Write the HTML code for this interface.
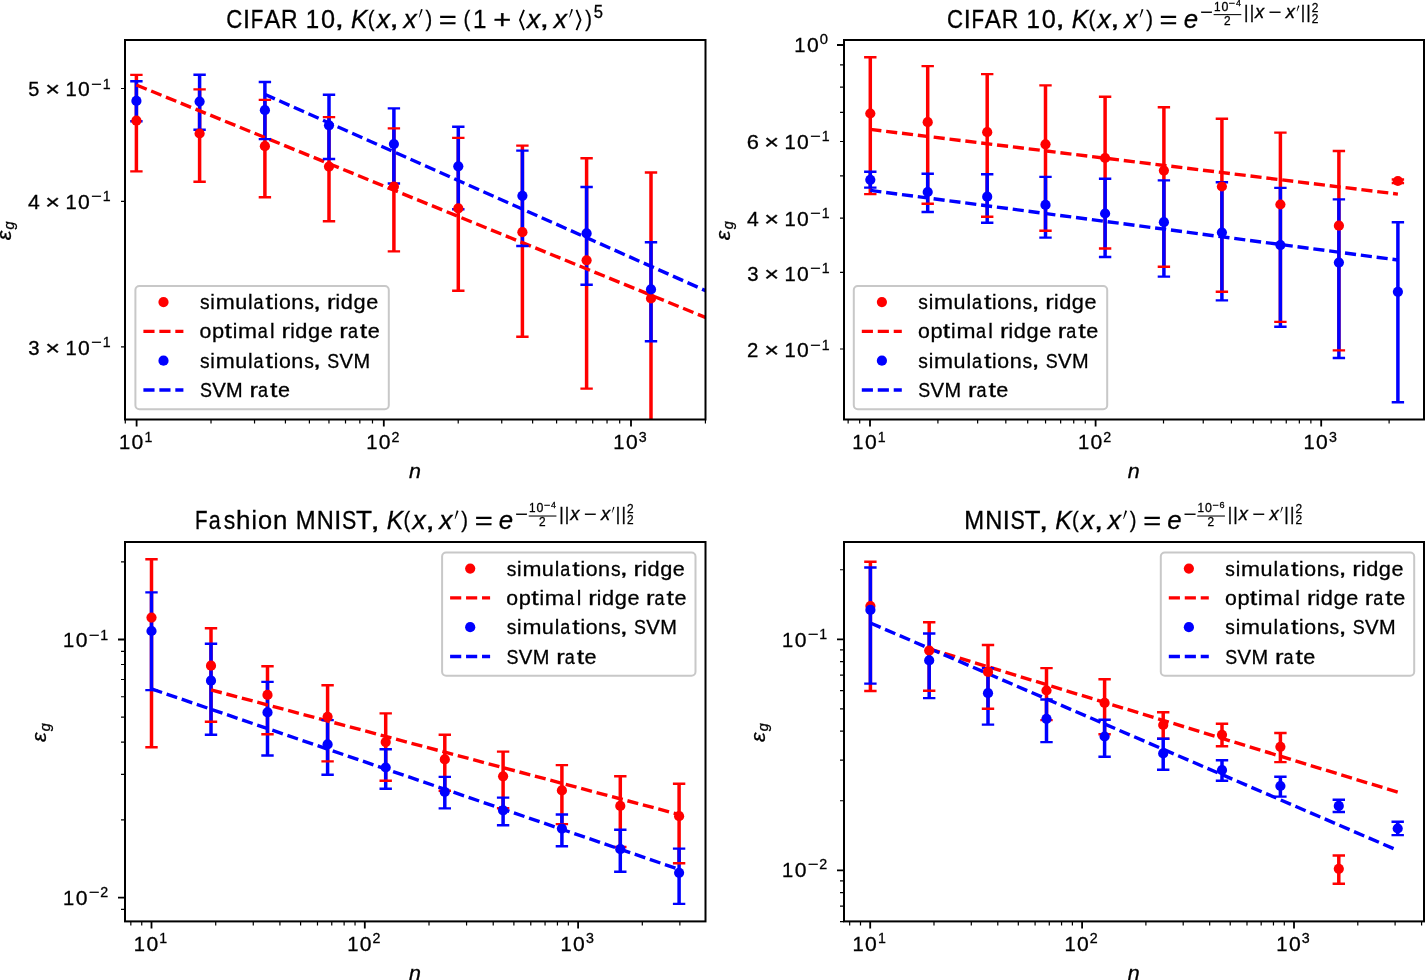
<!DOCTYPE html>
<html><head><meta charset="utf-8"><title>figure</title>
<style>
html,body{margin:0;padding:0;background:#fff;overflow:hidden;}
svg{display:block;will-change:transform;}
text{font-family:"Liberation Sans",sans-serif;stroke:#000;stroke-width:0.3px;}
</style></head><body>
<svg width="1425" height="980" viewBox="0 0 1425 980">
<rect width="1425" height="980" fill="#fff"/>
<clipPath id="c0"><rect x="125" y="40" width="580.5" height="379.5"/></clipPath>
<g clip-path="url(#c0)">
<path d="M136.4 74.9V171.4M199.6 89.4V181.7M264.9 99.9V197.2M329 117.1V221.2M393.9 128.4V251.4M458.3 137.9V290.7M522.4 145.6V336.7M586.6 158.3V388.6M651 172.5V470" stroke="#ff0000" stroke-width="3.5" fill="none"/>
<path d="M136.4 81.3V121.2M199.6 74.7V129.8M264.9 82V139.1M329 94.7V159M393.9 108.4V183.5M458.3 126.7V209.3M522.4 150.6V246M586.6 187V284.7M651 242.2V341.2" stroke="#0000ff" stroke-width="3.5" fill="none"/>
<path d="M130.2 74.9h12.4M130.2 171.4h12.4M193.4 89.4h12.4M193.4 181.7h12.4M258.7 99.9h12.4M258.7 197.2h12.4M322.8 117.1h12.4M322.8 221.2h12.4M387.7 128.4h12.4M387.7 251.4h12.4M452.1 137.9h12.4M452.1 290.7h12.4M516.2 145.6h12.4M516.2 336.7h12.4M580.4 158.3h12.4M580.4 388.6h12.4M644.8 172.5h12.4M644.8 470h12.4" stroke="#ff0000" stroke-width="2.4" fill="none"/>
<path d="M136.4 85L720 323.36" stroke="#ff0000" stroke-width="3.4" stroke-dasharray="11.14 4.82" fill="none"/>
<path d="M130.2 81.3h12.4M130.2 121.2h12.4M193.4 74.7h12.4M193.4 129.8h12.4M258.7 82h12.4M258.7 139.1h12.4M322.8 94.7h12.4M322.8 159h12.4M387.7 108.4h12.4M387.7 183.5h12.4M452.1 126.7h12.4M452.1 209.3h12.4M516.2 150.6h12.4M516.2 246h12.4M580.4 187h12.4M580.4 284.7h12.4M644.8 242.2h12.4M644.8 341.2h12.4" stroke="#0000ff" stroke-width="2.4" fill="none"/>
<path d="M264.7 94.3L720 297.1" stroke="#0000ff" stroke-width="3.4" stroke-dasharray="11.14 4.82" fill="none"/>
<circle cx="136.4" cy="120.7" r="5.1" fill="#ff0000"/>
<circle cx="199.6" cy="133.5" r="5.1" fill="#ff0000"/>
<circle cx="264.9" cy="146.2" r="5.1" fill="#ff0000"/>
<circle cx="329" cy="166.6" r="5.1" fill="#ff0000"/>
<circle cx="393.9" cy="186.5" r="5.1" fill="#ff0000"/>
<circle cx="458.3" cy="208.4" r="5.1" fill="#ff0000"/>
<circle cx="522.4" cy="232.2" r="5.1" fill="#ff0000"/>
<circle cx="586.6" cy="260.3" r="5.1" fill="#ff0000"/>
<circle cx="651" cy="298.5" r="5.1" fill="#ff0000"/>
<circle cx="136.4" cy="100.9" r="5.1" fill="#0000ff"/>
<circle cx="199.6" cy="101.6" r="5.1" fill="#0000ff"/>
<circle cx="264.9" cy="110.2" r="5.1" fill="#0000ff"/>
<circle cx="329" cy="125.3" r="5.1" fill="#0000ff"/>
<circle cx="393.9" cy="144.1" r="5.1" fill="#0000ff"/>
<circle cx="458.3" cy="166.3" r="5.1" fill="#0000ff"/>
<circle cx="522.4" cy="195.8" r="5.1" fill="#0000ff"/>
<circle cx="586.6" cy="233.4" r="5.1" fill="#0000ff"/>
<circle cx="651" cy="289.4" r="5.1" fill="#0000ff"/>
</g>
<rect x="125" y="40" width="580.5" height="379.5" fill="none" stroke="#000" stroke-width="2"/>
<path d="M136.6 419.5v7M383.8 419.5v7M631 419.5v7" stroke="#000" stroke-width="1.8" fill="none"/>
<path d="M125.29 419.5v4M211.01 419.5v4M254.54 419.5v4M285.43 419.5v4M309.39 419.5v4M328.96 419.5v4M345.51 419.5v4M359.84 419.5v4M372.49 419.5v4M458.21 419.5v4M501.74 419.5v4M532.63 419.5v4M556.59 419.5v4M576.16 419.5v4M592.71 419.5v4M607.04 419.5v4M619.69 419.5v4M705.41 419.5v4M125 346.95h-4M125 201.4h-4M125 88.5h-4" stroke="#000" stroke-width="1.2" fill="none"/>
<g transform="translate(136.3 449.3)" fill="#000"><text transform="translate(-17.33 0) scale(0.969 1)" font-size="20.8">1</text><text transform="translate(-4.79 0) scale(1.016 1)" font-size="20.8">0</text><text transform="translate(8.11 -7.66) scale(0.970 1)" font-size="14.56">1</text></g>
<g transform="translate(383.5 449.3)" fill="#000"><text transform="translate(-17.33 0) scale(0.969 1)" font-size="20.8">1</text><text transform="translate(-4.79 0) scale(1.016 1)" font-size="20.8">0</text><text transform="translate(7.95 -7.66) scale(0.979 1)" font-size="14.56">2</text></g>
<g transform="translate(630.7 449.3)" fill="#000"><text transform="translate(-17.33 0) scale(0.969 1)" font-size="20.8">1</text><text transform="translate(-4.79 0) scale(1.016 1)" font-size="20.8">0</text><text transform="translate(8.17 -7.66) scale(0.977 1)" font-size="14.56">3</text></g>
<g transform="translate(112.6 96.4)" fill="#000"><text transform="translate(-84.25 0) scale(0.959 1)" font-size="20.8">5</text><text transform="translate(-67.38 0) scale(1.220 1)" font-size="20.8">×</text><text transform="translate(-47.05 0) scale(0.969 1)" font-size="20.8">1</text><text transform="translate(-34.51 0) scale(1.016 1)" font-size="20.8">0</text><text transform="translate(-21.49 -7.66) scale(1.244 1)" font-size="14.56">−</text><text transform="translate(-9.88 -7.66) scale(0.970 1)" font-size="14.56">1</text></g>
<g transform="translate(112.6 208.8)" fill="#000"><text transform="translate(-84.51 0) scale(1.016 1)" font-size="20.8">4</text><text transform="translate(-67.38 0) scale(1.220 1)" font-size="20.8">×</text><text transform="translate(-47.05 0) scale(0.969 1)" font-size="20.8">1</text><text transform="translate(-34.51 0) scale(1.016 1)" font-size="20.8">0</text><text transform="translate(-21.49 -7.66) scale(1.244 1)" font-size="14.56">−</text><text transform="translate(-9.88 -7.66) scale(0.970 1)" font-size="14.56">1</text></g>
<g transform="translate(112.6 354.8)" fill="#000"><text transform="translate(-84.25 0) scale(0.976 1)" font-size="20.8">3</text><text transform="translate(-67.38 0) scale(1.220 1)" font-size="20.8">×</text><text transform="translate(-47.05 0) scale(0.969 1)" font-size="20.8">1</text><text transform="translate(-34.51 0) scale(1.016 1)" font-size="20.8">0</text><text transform="translate(-21.49 -7.66) scale(1.244 1)" font-size="14.56">−</text><text transform="translate(-9.88 -7.66) scale(0.970 1)" font-size="14.56">1</text></g>
<rect x="135.4" y="286" width="253.4" height="123.2" rx="4" ry="4" fill="#fff" fill-opacity="0.8" stroke="#c8c8c8" stroke-width="2"/>
<circle cx="163.5" cy="302.1" r="5.1" fill="#ff0000"/>
<g transform="translate(199.4 309.1)" fill="#000"><text transform="translate(0.54 0) scale(0.924 1)" font-size="20.8">s</text><text transform="translate(10.94 0) scale(0.983 1)" font-size="20.8">i</text><text transform="translate(16.28 0) scale(1.098 1)" font-size="20.8">m</text><text transform="translate(35.77 0) scale(1.039 1)" font-size="20.8">u</text><text transform="translate(48.63 0) scale(0.991 1)" font-size="20.8">l</text><text transform="translate(54.14 0) scale(0.865 1)" font-size="20.8">a</text><text transform="translate(66.08 0) scale(1.289 1)" font-size="20.8">t</text><text transform="translate(74.31 0) scale(0.983 1)" font-size="20.8">i</text><text transform="translate(79.56 0) scale(1.024 1)" font-size="20.8">o</text><text transform="translate(91.96 0) scale(1.041 1)" font-size="20.8">n</text><text transform="translate(104.8 0) scale(0.924 1)" font-size="20.8">s</text><text transform="translate(113.63 -0.29) scale(1.397 0.975)" font-size="20.8">,</text><text transform="translate(127.51 0) scale(1.235 1)" font-size="20.8">r</text><text transform="translate(136.14 0) scale(0.983 1)" font-size="20.8">i</text><text transform="translate(141.37 0) scale(1.047 1)" font-size="20.8">d</text><text transform="translate(154.06 0) scale(1.047 1)" font-size="20.8">g</text><text transform="translate(166.76 0) scale(1.038 1)" font-size="20.8">e</text></g>
<path d="M143.4 331.4h40" stroke="#ff0000" stroke-width="3.4" stroke-dasharray="11.14 4.82" fill="none"/>
<g transform="translate(199.4 338.4)" fill="#000"><text transform="translate(0.21 0) scale(1.024 1)" font-size="20.8">o</text><text transform="translate(12.64 0) scale(1.050 1)" font-size="20.8">p</text><text transform="translate(25.06 0) scale(1.289 1)" font-size="20.8">t</text><text transform="translate(33.3 0) scale(0.983 1)" font-size="20.8">i</text><text transform="translate(38.63 0) scale(1.098 1)" font-size="20.8">m</text><text transform="translate(58.26 0) scale(0.865 1)" font-size="20.8">a</text><text transform="translate(70.56 0) scale(0.991 1)" font-size="20.8">l</text><text transform="translate(82.1 0) scale(1.235 1)" font-size="20.8">r</text><text transform="translate(90.73 0) scale(0.983 1)" font-size="20.8">i</text><text transform="translate(95.96 0) scale(1.047 1)" font-size="20.8">d</text><text transform="translate(108.65 0) scale(1.047 1)" font-size="20.8">g</text><text transform="translate(121.35 0) scale(1.038 1)" font-size="20.8">e</text><text transform="translate(139.93 0) scale(1.235 1)" font-size="20.8">r</text><text transform="translate(148.48 0) scale(0.865 1)" font-size="20.8">a</text><text transform="translate(160.42 0) scale(1.289 1)" font-size="20.8">t</text><text transform="translate(168.34 0) scale(1.038 1)" font-size="20.8">e</text></g>
<circle cx="163.5" cy="360.7" r="5.1" fill="#0000ff"/>
<g transform="translate(199.4 367.7)" fill="#000"><text transform="translate(0.54 0) scale(0.924 1)" font-size="20.8">s</text><text transform="translate(10.94 0) scale(0.983 1)" font-size="20.8">i</text><text transform="translate(16.28 0) scale(1.098 1)" font-size="20.8">m</text><text transform="translate(35.77 0) scale(1.039 1)" font-size="20.8">u</text><text transform="translate(48.63 0) scale(0.991 1)" font-size="20.8">l</text><text transform="translate(54.14 0) scale(0.865 1)" font-size="20.8">a</text><text transform="translate(66.08 0) scale(1.289 1)" font-size="20.8">t</text><text transform="translate(74.31 0) scale(0.983 1)" font-size="20.8">i</text><text transform="translate(79.56 0) scale(1.024 1)" font-size="20.8">o</text><text transform="translate(91.96 0) scale(1.041 1)" font-size="20.8">n</text><text transform="translate(104.8 0) scale(0.924 1)" font-size="20.8">s</text><text transform="translate(113.63 -0.29) scale(1.397 0.975)" font-size="20.8">,</text><text transform="translate(127.9 0) scale(0.859 1)" font-size="20.8">S</text><text transform="translate(140.15 0) scale(0.978 1)" font-size="20.8">V</text><text transform="translate(154.1 0) scale(0.961 1)" font-size="20.8">M</text></g>
<path d="M143.4 390h40" stroke="#0000ff" stroke-width="3.4" stroke-dasharray="11.14 4.82" fill="none"/>
<g transform="translate(199.4 397)" fill="#000"><text transform="translate(0.51 0) scale(0.859 1)" font-size="20.8">S</text><text transform="translate(12.76 0) scale(0.978 1)" font-size="20.8">V</text><text transform="translate(26.71 0) scale(0.961 1)" font-size="20.8">M</text><text transform="translate(50.1 0) scale(1.235 1)" font-size="20.8">r</text><text transform="translate(58.66 0) scale(0.865 1)" font-size="20.8">a</text><text transform="translate(70.6 0) scale(1.289 1)" font-size="20.8">t</text><text transform="translate(78.51 0) scale(1.038 1)" font-size="20.8">e</text></g>
<g transform="translate(415.3 27.5)" fill="#000"><text transform="translate(-188.97 0) scale(0.891 1)" font-size="24.96">C</text><text transform="translate(-172.31 0) scale(1.013 1)" font-size="24.96">I</text><text transform="translate(-164.52 0) scale(0.822 1)" font-size="24.96">F</text><text transform="translate(-151.16 0) scale(0.967 1)" font-size="24.96">A</text><text transform="translate(-134.3 0) scale(0.918 1)" font-size="24.96">R</text><text transform="translate(-109.53 0) scale(0.967 1)" font-size="24.96">1</text><text transform="translate(-94.38 0) scale(1.013 1)" font-size="24.96">0</text><text transform="translate(-80.88 -0.36) scale(1.395 0.984)" font-size="24.96">,</text><text transform="translate(-64.36 0) scale(0.992 1)" font-size="24.96" font-style="italic">K</text><text transform="translate(-47.59 -1.58) scale(0.809 0.919)" font-size="24.96">(</text><text transform="translate(-38.55 0) scale(1.056 1)" font-size="24.96" font-style="italic">x</text><text transform="translate(-25.97 -0.36) scale(1.395 0.984)" font-size="24.96">,</text><text transform="translate(-11.88 0) scale(1.056 1)" font-size="24.96" font-style="italic">x</text><path d="M5.71 -18.58L7.47 -17.98L4.17 -9.91L3.55 -10.21Z" fill="#000"/><text transform="translate(10.18 -1.58) scale(0.809 0.919)" font-size="24.96">)</text><text transform="translate(23.54 0) scale(1.235 1)" font-size="24.96">=</text><text transform="translate(48.25 -1.58) scale(0.809 0.919)" font-size="24.96">(</text><text transform="translate(57.66 0) scale(0.967 1)" font-size="24.96">1</text><text transform="translate(77.98 0) scale(1.235 1)" font-size="24.96">+</text><path d="M108.71 -17.62L104.62 -7.52L108.71 2.57" fill="none" stroke="#000" stroke-width="1.8"/><text transform="translate(111.73 0) scale(1.056 1)" font-size="24.96" font-style="italic">x</text><text transform="translate(124.31 -0.36) scale(1.395 0.984)" font-size="24.96">,</text><text transform="translate(138.4 0) scale(1.056 1)" font-size="24.96" font-style="italic">x</text><path d="M155.98 -18.58L157.75 -17.98L154.45 -9.91L153.83 -10.21Z" fill="#000"/><path d="M161.17 -17.62L165.27 -7.52L161.17 2.57" fill="none" stroke="#000" stroke-width="1.8"/><text transform="translate(169.88 -1.58) scale(0.809 0.919)" font-size="24.96">)</text><text transform="translate(178.35 -9.19) scale(0.951 1)" font-size="17.47">5</text></g>
<g transform="translate(415.25 477.9)" fill="#000"><text transform="translate(-6.15 0) scale(1.035 1)" font-size="20.8" font-style="italic">n</text></g>
<g transform="translate(11.05 240.7) rotate(-90)" fill="#000"><text transform="translate(0.43 0) scale(1.035 1)" font-size="20.8" font-style="italic">ε</text><text transform="translate(11.23 3.28)" font-size="14.56" font-style="italic">g</text></g>
<clipPath id="c1"><rect x="844" y="40" width="580" height="379.5"/></clipPath>
<g clip-path="url(#c1)">
<path d="M870.3 57.3V194.1M927.7 66.1V203.7M987.2 74.1V216.7M1045.5 85.4V230.8M1105.1 96.7V248.5M1163.9 107.3V266.7M1221.9 118.8V291.8M1280.4 132.6V321.9M1338.9 151V350.4M1397.9 179.5V183" stroke="#ff0000" stroke-width="3.5" fill="none"/>
<path d="M870.3 171.8V187.6M927.7 173.7V212M987.2 174.3V222.7M1045.5 176.9V237.6M1105.1 178.8V257M1163.9 180.4V276.6M1221.9 182.2V300.4M1280.4 187.9V326.7M1338.9 199.4V358M1397.9 222.3V402.2" stroke="#0000ff" stroke-width="3.5" fill="none"/>
<path d="M864.1 57.3h12.4M864.1 194.1h12.4M921.5 66.1h12.4M921.5 203.7h12.4M981 74.1h12.4M981 216.7h12.4M1039.3 85.4h12.4M1039.3 230.8h12.4M1098.9 96.7h12.4M1098.9 248.5h12.4M1157.7 107.3h12.4M1157.7 266.7h12.4M1215.7 118.8h12.4M1215.7 291.8h12.4M1274.2 132.6h12.4M1274.2 321.9h12.4M1332.7 151h12.4M1332.7 350.4h12.4M1391.7 179.5h12.4M1391.7 183h12.4" stroke="#ff0000" stroke-width="2.4" fill="none"/>
<path d="M870.3 129.4L1397.9 194.1" stroke="#ff0000" stroke-width="3.4" stroke-dasharray="11.14 4.82" fill="none"/>
<path d="M864.1 171.8h12.4M864.1 187.6h12.4M921.5 173.7h12.4M921.5 212h12.4M981 174.3h12.4M981 222.7h12.4M1039.3 176.9h12.4M1039.3 237.6h12.4M1098.9 178.8h12.4M1098.9 257h12.4M1157.7 180.4h12.4M1157.7 276.6h12.4M1215.7 182.2h12.4M1215.7 300.4h12.4M1274.2 187.9h12.4M1274.2 326.7h12.4M1332.7 199.4h12.4M1332.7 358h12.4M1391.7 222.3h12.4M1391.7 402.2h12.4" stroke="#0000ff" stroke-width="2.4" fill="none"/>
<path d="M870.3 190.4L1397.9 260" stroke="#0000ff" stroke-width="3.4" stroke-dasharray="11.14 4.82" fill="none"/>
<circle cx="870.3" cy="113.5" r="5.1" fill="#ff0000"/>
<circle cx="927.7" cy="122.2" r="5.1" fill="#ff0000"/>
<circle cx="987.2" cy="132.2" r="5.1" fill="#ff0000"/>
<circle cx="1045.5" cy="144.3" r="5.1" fill="#ff0000"/>
<circle cx="1105.1" cy="158" r="5.1" fill="#ff0000"/>
<circle cx="1163.9" cy="170.6" r="5.1" fill="#ff0000"/>
<circle cx="1221.9" cy="186.5" r="5.1" fill="#ff0000"/>
<circle cx="1280.4" cy="204.5" r="5.1" fill="#ff0000"/>
<circle cx="1338.9" cy="225.7" r="5.1" fill="#ff0000"/>
<circle cx="1397.9" cy="181" r="5.1" fill="#ff0000"/>
<circle cx="870.3" cy="179.8" r="5.1" fill="#0000ff"/>
<circle cx="927.7" cy="192" r="5.1" fill="#0000ff"/>
<circle cx="987.2" cy="196.7" r="5.1" fill="#0000ff"/>
<circle cx="1045.5" cy="204.9" r="5.1" fill="#0000ff"/>
<circle cx="1105.1" cy="213.5" r="5.1" fill="#0000ff"/>
<circle cx="1163.9" cy="222.2" r="5.1" fill="#0000ff"/>
<circle cx="1221.9" cy="232.5" r="5.1" fill="#0000ff"/>
<circle cx="1280.4" cy="245.1" r="5.1" fill="#0000ff"/>
<circle cx="1338.9" cy="262.6" r="5.1" fill="#0000ff"/>
<circle cx="1397.9" cy="291.8" r="5.1" fill="#0000ff"/>
</g>
<rect x="844" y="40" width="580" height="379.5" fill="none" stroke="#000" stroke-width="2"/>
<path d="M870 419.5v7M1095.6 419.5v7M1321.2 419.5v7M844 45h-7" stroke="#000" stroke-width="1.8" fill="none"/>
<path d="M848.14 419.5v4M859.68 419.5v4M937.91 419.5v4M977.64 419.5v4M1005.82 419.5v4M1027.69 419.5v4M1045.55 419.5v4M1060.65 419.5v4M1073.74 419.5v4M1085.28 419.5v4M1163.51 419.5v4M1203.24 419.5v4M1231.42 419.5v4M1253.29 419.5v4M1271.15 419.5v4M1286.25 419.5v4M1299.34 419.5v4M1310.88 419.5v4M1389.11 419.5v4M844 348.98h-4M844 272.4h-4M844 218.06h-4M844 175.92h-4M844 141.48h-4M844 112.37h-4M844 87.15h-4M844 64.9h-4" stroke="#000" stroke-width="1.2" fill="none"/>
<g transform="translate(869.7 449.3)" fill="#000"><text transform="translate(-17.33 0) scale(0.969 1)" font-size="20.8">1</text><text transform="translate(-4.79 0) scale(1.016 1)" font-size="20.8">0</text><text transform="translate(8.11 -7.66) scale(0.970 1)" font-size="14.56">1</text></g>
<g transform="translate(1095.3 449.3)" fill="#000"><text transform="translate(-17.33 0) scale(0.969 1)" font-size="20.8">1</text><text transform="translate(-4.79 0) scale(1.016 1)" font-size="20.8">0</text><text transform="translate(7.95 -7.66) scale(0.979 1)" font-size="14.56">2</text></g>
<g transform="translate(1320.9 449.3)" fill="#000"><text transform="translate(-17.33 0) scale(0.969 1)" font-size="20.8">1</text><text transform="translate(-4.79 0) scale(1.016 1)" font-size="20.8">0</text><text transform="translate(8.17 -7.66) scale(0.977 1)" font-size="14.56">3</text></g>
<g transform="translate(829.7 51.7)" fill="#000"><text transform="translate(-35.33 0) scale(0.969 1)" font-size="20.8">1</text><text transform="translate(-22.79 0) scale(1.016 1)" font-size="20.8">0</text><text transform="translate(-10.01 -7.66) scale(1.018 1)" font-size="14.56">0</text></g>
<g transform="translate(831.6 149.1)" fill="#000"><text transform="translate(-84.73 0) scale(1.054 1)" font-size="20.8">6</text><text transform="translate(-67.38 0) scale(1.220 1)" font-size="20.8">×</text><text transform="translate(-47.05 0) scale(0.969 1)" font-size="20.8">1</text><text transform="translate(-34.51 0) scale(1.016 1)" font-size="20.8">0</text><text transform="translate(-21.49 -7.66) scale(1.244 1)" font-size="14.56">−</text><text transform="translate(-9.88 -7.66) scale(0.970 1)" font-size="14.56">1</text></g>
<g transform="translate(831.6 226)" fill="#000"><text transform="translate(-84.51 0) scale(1.016 1)" font-size="20.8">4</text><text transform="translate(-67.38 0) scale(1.220 1)" font-size="20.8">×</text><text transform="translate(-47.05 0) scale(0.969 1)" font-size="20.8">1</text><text transform="translate(-34.51 0) scale(1.016 1)" font-size="20.8">0</text><text transform="translate(-21.49 -7.66) scale(1.244 1)" font-size="14.56">−</text><text transform="translate(-9.88 -7.66) scale(0.970 1)" font-size="14.56">1</text></g>
<g transform="translate(831.6 280.7)" fill="#000"><text transform="translate(-84.25 0) scale(0.976 1)" font-size="20.8">3</text><text transform="translate(-67.38 0) scale(1.220 1)" font-size="20.8">×</text><text transform="translate(-47.05 0) scale(0.969 1)" font-size="20.8">1</text><text transform="translate(-34.51 0) scale(1.016 1)" font-size="20.8">0</text><text transform="translate(-21.49 -7.66) scale(1.244 1)" font-size="14.56">−</text><text transform="translate(-9.88 -7.66) scale(0.970 1)" font-size="14.56">1</text></g>
<g transform="translate(831.6 357.2)" fill="#000"><text transform="translate(-84.56 0) scale(0.979 1)" font-size="20.8">2</text><text transform="translate(-67.38 0) scale(1.220 1)" font-size="20.8">×</text><text transform="translate(-47.05 0) scale(0.969 1)" font-size="20.8">1</text><text transform="translate(-34.51 0) scale(1.016 1)" font-size="20.8">0</text><text transform="translate(-21.49 -7.66) scale(1.244 1)" font-size="14.56">−</text><text transform="translate(-9.88 -7.66) scale(0.970 1)" font-size="14.56">1</text></g>
<rect x="853.8" y="286" width="253.4" height="123.2" rx="4" ry="4" fill="#fff" fill-opacity="0.8" stroke="#c8c8c8" stroke-width="2"/>
<circle cx="881.9" cy="302.1" r="5.1" fill="#ff0000"/>
<g transform="translate(917.8 309.1)" fill="#000"><text transform="translate(0.54 0) scale(0.924 1)" font-size="20.8">s</text><text transform="translate(10.94 0) scale(0.983 1)" font-size="20.8">i</text><text transform="translate(16.28 0) scale(1.098 1)" font-size="20.8">m</text><text transform="translate(35.77 0) scale(1.039 1)" font-size="20.8">u</text><text transform="translate(48.63 0) scale(0.991 1)" font-size="20.8">l</text><text transform="translate(54.14 0) scale(0.865 1)" font-size="20.8">a</text><text transform="translate(66.08 0) scale(1.289 1)" font-size="20.8">t</text><text transform="translate(74.31 0) scale(0.983 1)" font-size="20.8">i</text><text transform="translate(79.56 0) scale(1.024 1)" font-size="20.8">o</text><text transform="translate(91.96 0) scale(1.041 1)" font-size="20.8">n</text><text transform="translate(104.8 0) scale(0.924 1)" font-size="20.8">s</text><text transform="translate(113.63 -0.29) scale(1.397 0.975)" font-size="20.8">,</text><text transform="translate(127.51 0) scale(1.235 1)" font-size="20.8">r</text><text transform="translate(136.14 0) scale(0.983 1)" font-size="20.8">i</text><text transform="translate(141.37 0) scale(1.047 1)" font-size="20.8">d</text><text transform="translate(154.06 0) scale(1.047 1)" font-size="20.8">g</text><text transform="translate(166.76 0) scale(1.038 1)" font-size="20.8">e</text></g>
<path d="M861.8 331.4h40" stroke="#ff0000" stroke-width="3.4" stroke-dasharray="11.14 4.82" fill="none"/>
<g transform="translate(917.8 338.4)" fill="#000"><text transform="translate(0.21 0) scale(1.024 1)" font-size="20.8">o</text><text transform="translate(12.64 0) scale(1.050 1)" font-size="20.8">p</text><text transform="translate(25.06 0) scale(1.289 1)" font-size="20.8">t</text><text transform="translate(33.3 0) scale(0.983 1)" font-size="20.8">i</text><text transform="translate(38.63 0) scale(1.098 1)" font-size="20.8">m</text><text transform="translate(58.26 0) scale(0.865 1)" font-size="20.8">a</text><text transform="translate(70.56 0) scale(0.991 1)" font-size="20.8">l</text><text transform="translate(82.1 0) scale(1.235 1)" font-size="20.8">r</text><text transform="translate(90.73 0) scale(0.983 1)" font-size="20.8">i</text><text transform="translate(95.96 0) scale(1.047 1)" font-size="20.8">d</text><text transform="translate(108.65 0) scale(1.047 1)" font-size="20.8">g</text><text transform="translate(121.35 0) scale(1.038 1)" font-size="20.8">e</text><text transform="translate(139.93 0) scale(1.235 1)" font-size="20.8">r</text><text transform="translate(148.48 0) scale(0.865 1)" font-size="20.8">a</text><text transform="translate(160.42 0) scale(1.289 1)" font-size="20.8">t</text><text transform="translate(168.34 0) scale(1.038 1)" font-size="20.8">e</text></g>
<circle cx="881.9" cy="360.7" r="5.1" fill="#0000ff"/>
<g transform="translate(917.8 367.7)" fill="#000"><text transform="translate(0.54 0) scale(0.924 1)" font-size="20.8">s</text><text transform="translate(10.94 0) scale(0.983 1)" font-size="20.8">i</text><text transform="translate(16.28 0) scale(1.098 1)" font-size="20.8">m</text><text transform="translate(35.77 0) scale(1.039 1)" font-size="20.8">u</text><text transform="translate(48.63 0) scale(0.991 1)" font-size="20.8">l</text><text transform="translate(54.14 0) scale(0.865 1)" font-size="20.8">a</text><text transform="translate(66.08 0) scale(1.289 1)" font-size="20.8">t</text><text transform="translate(74.31 0) scale(0.983 1)" font-size="20.8">i</text><text transform="translate(79.56 0) scale(1.024 1)" font-size="20.8">o</text><text transform="translate(91.96 0) scale(1.041 1)" font-size="20.8">n</text><text transform="translate(104.8 0) scale(0.924 1)" font-size="20.8">s</text><text transform="translate(113.63 -0.29) scale(1.397 0.975)" font-size="20.8">,</text><text transform="translate(127.9 0) scale(0.859 1)" font-size="20.8">S</text><text transform="translate(140.15 0) scale(0.978 1)" font-size="20.8">V</text><text transform="translate(154.1 0) scale(0.961 1)" font-size="20.8">M</text></g>
<path d="M861.8 390h40" stroke="#0000ff" stroke-width="3.4" stroke-dasharray="11.14 4.82" fill="none"/>
<g transform="translate(917.8 397)" fill="#000"><text transform="translate(0.51 0) scale(0.859 1)" font-size="20.8">S</text><text transform="translate(12.76 0) scale(0.978 1)" font-size="20.8">V</text><text transform="translate(26.71 0) scale(0.961 1)" font-size="20.8">M</text><text transform="translate(50.1 0) scale(1.235 1)" font-size="20.8">r</text><text transform="translate(58.66 0) scale(0.865 1)" font-size="20.8">a</text><text transform="translate(70.6 0) scale(1.289 1)" font-size="20.8">t</text><text transform="translate(78.51 0) scale(1.038 1)" font-size="20.8">e</text></g>
<g transform="translate(1134 27.5)" fill="#000"><text transform="translate(-186.96 0) scale(0.891 1)" font-size="24.96">C</text><text transform="translate(-170.29 0) scale(1.013 1)" font-size="24.96">I</text><text transform="translate(-162.51 0) scale(0.822 1)" font-size="24.96">F</text><text transform="translate(-149.15 0) scale(0.967 1)" font-size="24.96">A</text><text transform="translate(-132.29 0) scale(0.918 1)" font-size="24.96">R</text><text transform="translate(-107.52 0) scale(0.967 1)" font-size="24.96">1</text><text transform="translate(-92.37 0) scale(1.013 1)" font-size="24.96">0</text><text transform="translate(-78.86 -0.36) scale(1.395 0.984)" font-size="24.96">,</text><text transform="translate(-62.35 0) scale(0.992 1)" font-size="24.96" font-style="italic">K</text><text transform="translate(-45.58 -1.58) scale(0.809 0.919)" font-size="24.96">(</text><text transform="translate(-36.54 0) scale(1.056 1)" font-size="24.96" font-style="italic">x</text><text transform="translate(-23.96 -0.36) scale(1.395 0.984)" font-size="24.96">,</text><text transform="translate(-9.86 0) scale(1.056 1)" font-size="24.96" font-style="italic">x</text><path d="M7.72 -18.58L9.48 -17.98L6.18 -9.91L5.56 -10.21Z" fill="#000"/><text transform="translate(12.19 -1.58) scale(0.809 0.919)" font-size="24.96">)</text><text transform="translate(25.55 0) scale(1.235 1)" font-size="24.96">=</text><text transform="translate(49.69 0) scale(1.037 1)" font-size="24.96" font-style="italic">e</text><text transform="translate(66.16 -9.19) scale(1.233 1)" font-size="17.47">−</text><text transform="translate(79.99 -16.72) scale(0.964 1)" font-size="12.23">1</text><text transform="translate(87.42 -16.72) scale(1.013 1)" font-size="12.23">0</text><text transform="translate(95.12 -21.22) scale(1.254 1)" font-size="8.56">−</text><text transform="translate(101.91 -21.22) scale(1.022 1)" font-size="8.56">4</text><text transform="translate(89.93 -2.57) scale(0.972 1)" font-size="12.23">2</text><text transform="translate(110.02 -9.03) scale(0.978 1.068)" font-size="17.47">|</text><text transform="translate(115.71 -9.03) scale(0.978 1.068)" font-size="17.47">|</text><text transform="translate(121.11 -9.19) scale(1.052 1)" font-size="17.47" font-style="italic">x</text><text transform="translate(134.83 -9.19) scale(1.233 1)" font-size="17.47">−</text><text transform="translate(151.87 -9.19) scale(1.052 1)" font-size="17.47" font-style="italic">x</text><path d="M164.18 -22.18L165.41 -21.58L163.1 -16.12L162.67 -16.42Z" fill="#000"/><text transform="translate(166.64 -9.03) scale(0.978 1.068)" font-size="17.47">|</text><text transform="translate(172.34 -9.03) scale(0.978 1.068)" font-size="17.47">|</text><text transform="translate(177.86 -15.62) scale(0.972 1)" font-size="12.23">2</text><text transform="translate(177.86 -4.59) scale(0.972 1)" font-size="12.23">2</text><rect x="79.6" y="-13.4" width="27.71" height="1.05" fill="#000"/></g>
<g transform="translate(1134 477.9)" fill="#000"><text transform="translate(-6.15 0) scale(1.035 1)" font-size="20.8" font-style="italic">n</text></g>
<g transform="translate(729.85 240.6) rotate(-90)" fill="#000"><text transform="translate(0.43 0) scale(1.035 1)" font-size="20.8" font-style="italic">ε</text><text transform="translate(11.23 3.28)" font-size="14.56" font-style="italic">g</text></g>
<clipPath id="c2"><rect x="125" y="542" width="580.5" height="379.4"/></clipPath>
<g clip-path="url(#c2)">
<path d="M151.5 559.2V747.2M211 628.3V721.8M267.5 666.2V734.2M327.6 685.3V761.4M385.7 713.4V780.7M444.8 734.7V790.8M503.1 751.6V808.2M561.9 765.1V824.1M620.3 776.3V847M679.1 783.7V863.2" stroke="#ff0000" stroke-width="3.5" fill="none"/>
<path d="M151.5 592.4V690.1M211 643.8V734.8M267.5 681.9V755.5M327.6 720.1V774.7M385.7 749.3V788.8M444.8 776.9V808.4M503.1 797.6V825.2M561.9 814.5V846.3M620.3 829.7V871.7M679.1 848.6V903.9" stroke="#0000ff" stroke-width="3.5" fill="none"/>
<path d="M145.3 559.2h12.4M145.3 747.2h12.4M204.8 628.3h12.4M204.8 721.8h12.4M261.3 666.2h12.4M261.3 734.2h12.4M321.4 685.3h12.4M321.4 761.4h12.4M379.5 713.4h12.4M379.5 780.7h12.4M438.6 734.7h12.4M438.6 790.8h12.4M496.9 751.6h12.4M496.9 808.2h12.4M555.7 765.1h12.4M555.7 824.1h12.4M614.1 776.3h12.4M614.1 847h12.4M672.9 783.7h12.4M672.9 863.2h12.4" stroke="#ff0000" stroke-width="2.4" fill="none"/>
<path d="M211 689.9L679.1 814.5" stroke="#ff0000" stroke-width="3.4" stroke-dasharray="11.14 4.82" fill="none"/>
<path d="M145.3 592.4h12.4M145.3 690.1h12.4M204.8 643.8h12.4M204.8 734.8h12.4M261.3 681.9h12.4M261.3 755.5h12.4M321.4 720.1h12.4M321.4 774.7h12.4M379.5 749.3h12.4M379.5 788.8h12.4M438.6 776.9h12.4M438.6 808.4h12.4M496.9 797.6h12.4M496.9 825.2h12.4M555.7 814.5h12.4M555.7 846.3h12.4M614.1 829.7h12.4M614.1 871.7h12.4M672.9 848.6h12.4M672.9 903.9h12.4" stroke="#0000ff" stroke-width="2.4" fill="none"/>
<path d="M151.5 688.9L679.1 869.4" stroke="#0000ff" stroke-width="3.4" stroke-dasharray="11.14 4.82" fill="none"/>
<circle cx="151.5" cy="617.6" r="5.1" fill="#ff0000"/>
<circle cx="211" cy="665.7" r="5.1" fill="#ff0000"/>
<circle cx="267.5" cy="694.9" r="5.1" fill="#ff0000"/>
<circle cx="327.6" cy="716.8" r="5.1" fill="#ff0000"/>
<circle cx="385.7" cy="742.1" r="5.1" fill="#ff0000"/>
<circle cx="444.8" cy="759.4" r="5.1" fill="#ff0000"/>
<circle cx="503.1" cy="776.3" r="5.1" fill="#ff0000"/>
<circle cx="561.9" cy="790.4" r="5.1" fill="#ff0000"/>
<circle cx="620.3" cy="805.9" r="5.1" fill="#ff0000"/>
<circle cx="679.1" cy="816.2" r="5.1" fill="#ff0000"/>
<circle cx="151.5" cy="631" r="5.1" fill="#0000ff"/>
<circle cx="211" cy="680.7" r="5.1" fill="#0000ff"/>
<circle cx="267.5" cy="712.4" r="5.1" fill="#0000ff"/>
<circle cx="327.6" cy="744.4" r="5.1" fill="#0000ff"/>
<circle cx="385.7" cy="767.5" r="5.1" fill="#0000ff"/>
<circle cx="444.8" cy="792" r="5.1" fill="#0000ff"/>
<circle cx="503.1" cy="810.4" r="5.1" fill="#0000ff"/>
<circle cx="561.9" cy="828.6" r="5.1" fill="#0000ff"/>
<circle cx="620.3" cy="849.2" r="5.1" fill="#0000ff"/>
<circle cx="679.1" cy="872.8" r="5.1" fill="#0000ff"/>
</g>
<rect x="125" y="542" width="580.5" height="379.4" fill="none" stroke="#000" stroke-width="2"/>
<path d="M151.5 921.4v7M364.8 921.4v7M578.1 921.4v7M125 897.6h-7M125 639.5h-7" stroke="#000" stroke-width="1.8" fill="none"/>
<path d="M130.83 921.4v4M141.74 921.4v4M215.71 921.4v4M253.27 921.4v4M279.92 921.4v4M300.59 921.4v4M317.48 921.4v4M331.76 921.4v4M344.13 921.4v4M355.04 921.4v4M429.01 921.4v4M466.57 921.4v4M493.22 921.4v4M513.89 921.4v4M530.78 921.4v4M545.06 921.4v4M557.43 921.4v4M568.34 921.4v4M642.31 921.4v4M679.87 921.4v4M125 909.41h-4M125 819.9h-4M125 774.46h-4M125 742.21h-4M125 717.2h-4M125 696.76h-4M125 679.48h-4M125 664.51h-4M125 651.31h-4M125 561.8h-4" stroke="#000" stroke-width="1.2" fill="none"/>
<g transform="translate(151.2 951)" fill="#000"><text transform="translate(-17.33 0) scale(0.969 1)" font-size="20.8">1</text><text transform="translate(-4.79 0) scale(1.016 1)" font-size="20.8">0</text><text transform="translate(8.11 -7.66) scale(0.970 1)" font-size="14.56">1</text></g>
<g transform="translate(364.5 951)" fill="#000"><text transform="translate(-17.33 0) scale(0.969 1)" font-size="20.8">1</text><text transform="translate(-4.79 0) scale(1.016 1)" font-size="20.8">0</text><text transform="translate(7.95 -7.66) scale(0.979 1)" font-size="14.56">2</text></g>
<g transform="translate(577.8 951)" fill="#000"><text transform="translate(-17.33 0) scale(0.969 1)" font-size="20.8">1</text><text transform="translate(-4.79 0) scale(1.016 1)" font-size="20.8">0</text><text transform="translate(8.17 -7.66) scale(0.977 1)" font-size="14.56">3</text></g>
<g transform="translate(109.45 647.3)" fill="#000"><text transform="translate(-46.33 0) scale(0.969 1)" font-size="20.8">1</text><text transform="translate(-33.79 0) scale(1.016 1)" font-size="20.8">0</text><text transform="translate(-20.77 -7.66) scale(1.244 1)" font-size="14.56">−</text><text transform="translate(-9.16 -7.66) scale(0.970 1)" font-size="14.56">1</text></g>
<g transform="translate(109.45 904.9)" fill="#000"><text transform="translate(-46.33 0) scale(0.969 1)" font-size="20.8">1</text><text transform="translate(-33.79 0) scale(1.016 1)" font-size="20.8">0</text><text transform="translate(-20.77 -7.66) scale(1.244 1)" font-size="14.56">−</text><text transform="translate(-9.32 -7.66) scale(0.979 1)" font-size="14.56">2</text></g>
<rect x="442.1" y="552.5" width="253.4" height="123.2" rx="4" ry="4" fill="#fff" fill-opacity="0.8" stroke="#c8c8c8" stroke-width="2"/>
<circle cx="470.2" cy="568.6" r="5.1" fill="#ff0000"/>
<g transform="translate(506.1 575.6)" fill="#000"><text transform="translate(0.54 0) scale(0.924 1)" font-size="20.8">s</text><text transform="translate(10.94 0) scale(0.983 1)" font-size="20.8">i</text><text transform="translate(16.28 0) scale(1.098 1)" font-size="20.8">m</text><text transform="translate(35.77 0) scale(1.039 1)" font-size="20.8">u</text><text transform="translate(48.63 0) scale(0.991 1)" font-size="20.8">l</text><text transform="translate(54.14 0) scale(0.865 1)" font-size="20.8">a</text><text transform="translate(66.08 0) scale(1.289 1)" font-size="20.8">t</text><text transform="translate(74.31 0) scale(0.983 1)" font-size="20.8">i</text><text transform="translate(79.56 0) scale(1.024 1)" font-size="20.8">o</text><text transform="translate(91.96 0) scale(1.041 1)" font-size="20.8">n</text><text transform="translate(104.8 0) scale(0.924 1)" font-size="20.8">s</text><text transform="translate(113.63 -0.29) scale(1.397 0.975)" font-size="20.8">,</text><text transform="translate(127.51 0) scale(1.235 1)" font-size="20.8">r</text><text transform="translate(136.14 0) scale(0.983 1)" font-size="20.8">i</text><text transform="translate(141.37 0) scale(1.047 1)" font-size="20.8">d</text><text transform="translate(154.06 0) scale(1.047 1)" font-size="20.8">g</text><text transform="translate(166.76 0) scale(1.038 1)" font-size="20.8">e</text></g>
<path d="M450.1 597.9h40" stroke="#ff0000" stroke-width="3.4" stroke-dasharray="11.14 4.82" fill="none"/>
<g transform="translate(506.1 604.9)" fill="#000"><text transform="translate(0.21 0) scale(1.024 1)" font-size="20.8">o</text><text transform="translate(12.64 0) scale(1.050 1)" font-size="20.8">p</text><text transform="translate(25.06 0) scale(1.289 1)" font-size="20.8">t</text><text transform="translate(33.3 0) scale(0.983 1)" font-size="20.8">i</text><text transform="translate(38.63 0) scale(1.098 1)" font-size="20.8">m</text><text transform="translate(58.26 0) scale(0.865 1)" font-size="20.8">a</text><text transform="translate(70.56 0) scale(0.991 1)" font-size="20.8">l</text><text transform="translate(82.1 0) scale(1.235 1)" font-size="20.8">r</text><text transform="translate(90.73 0) scale(0.983 1)" font-size="20.8">i</text><text transform="translate(95.96 0) scale(1.047 1)" font-size="20.8">d</text><text transform="translate(108.65 0) scale(1.047 1)" font-size="20.8">g</text><text transform="translate(121.35 0) scale(1.038 1)" font-size="20.8">e</text><text transform="translate(139.93 0) scale(1.235 1)" font-size="20.8">r</text><text transform="translate(148.48 0) scale(0.865 1)" font-size="20.8">a</text><text transform="translate(160.42 0) scale(1.289 1)" font-size="20.8">t</text><text transform="translate(168.34 0) scale(1.038 1)" font-size="20.8">e</text></g>
<circle cx="470.2" cy="627.2" r="5.1" fill="#0000ff"/>
<g transform="translate(506.1 634.2)" fill="#000"><text transform="translate(0.54 0) scale(0.924 1)" font-size="20.8">s</text><text transform="translate(10.94 0) scale(0.983 1)" font-size="20.8">i</text><text transform="translate(16.28 0) scale(1.098 1)" font-size="20.8">m</text><text transform="translate(35.77 0) scale(1.039 1)" font-size="20.8">u</text><text transform="translate(48.63 0) scale(0.991 1)" font-size="20.8">l</text><text transform="translate(54.14 0) scale(0.865 1)" font-size="20.8">a</text><text transform="translate(66.08 0) scale(1.289 1)" font-size="20.8">t</text><text transform="translate(74.31 0) scale(0.983 1)" font-size="20.8">i</text><text transform="translate(79.56 0) scale(1.024 1)" font-size="20.8">o</text><text transform="translate(91.96 0) scale(1.041 1)" font-size="20.8">n</text><text transform="translate(104.8 0) scale(0.924 1)" font-size="20.8">s</text><text transform="translate(113.63 -0.29) scale(1.397 0.975)" font-size="20.8">,</text><text transform="translate(127.9 0) scale(0.859 1)" font-size="20.8">S</text><text transform="translate(140.15 0) scale(0.978 1)" font-size="20.8">V</text><text transform="translate(154.1 0) scale(0.961 1)" font-size="20.8">M</text></g>
<path d="M450.1 656.5h40" stroke="#0000ff" stroke-width="3.4" stroke-dasharray="11.14 4.82" fill="none"/>
<g transform="translate(506.1 663.5)" fill="#000"><text transform="translate(0.51 0) scale(0.859 1)" font-size="20.8">S</text><text transform="translate(12.76 0) scale(0.978 1)" font-size="20.8">V</text><text transform="translate(26.71 0) scale(0.961 1)" font-size="20.8">M</text><text transform="translate(50.1 0) scale(1.235 1)" font-size="20.8">r</text><text transform="translate(58.66 0) scale(0.865 1)" font-size="20.8">a</text><text transform="translate(70.6 0) scale(1.289 1)" font-size="20.8">t</text><text transform="translate(78.51 0) scale(1.038 1)" font-size="20.8">e</text></g>
<g transform="translate(415.25 528.9)" fill="#000"><text transform="translate(-220.21 0) scale(0.822 1)" font-size="24.96">F</text><text transform="translate(-206.47 0) scale(0.864 1)" font-size="24.96">a</text><text transform="translate(-191.54 0) scale(0.921 1)" font-size="24.96">s</text><text transform="translate(-179.23 0) scale(1.041 1)" font-size="24.96">h</text><text transform="translate(-163.67 0) scale(0.979 1)" font-size="24.96">i</text><text transform="translate(-157.33 0) scale(1.020 1)" font-size="24.96">o</text><text transform="translate(-142.34 0) scale(1.034 1)" font-size="24.96">n</text><text transform="translate(-119.43 0) scale(0.956 1)" font-size="24.96">M</text><text transform="translate(-98.57 0) scale(0.947 1)" font-size="24.96">N</text><text transform="translate(-80.91 0) scale(1.013 1)" font-size="24.96">I</text><text transform="translate(-73.2 0) scale(0.857 1)" font-size="24.96">S</text><text transform="translate(-59.14 0) scale(1.048 1)" font-size="24.96">T</text><text transform="translate(-45 -0.36) scale(1.395 0.984)" font-size="24.96">,</text><text transform="translate(-28.49 0) scale(0.992 1)" font-size="24.96" font-style="italic">K</text><text transform="translate(-11.72 -1.58) scale(0.809 0.919)" font-size="24.96">(</text><text transform="translate(-2.68 0) scale(1.056 1)" font-size="24.96" font-style="italic">x</text><text transform="translate(9.9 -0.36) scale(1.395 0.984)" font-size="24.96">,</text><text transform="translate(24 0) scale(1.056 1)" font-size="24.96" font-style="italic">x</text><path d="M41.58 -18.58L43.34 -17.98L40.04 -9.91L39.42 -10.21Z" fill="#000"/><text transform="translate(46.05 -1.58) scale(0.809 0.919)" font-size="24.96">)</text><text transform="translate(59.41 0) scale(1.235 1)" font-size="24.96">=</text><text transform="translate(83.55 0) scale(1.037 1)" font-size="24.96" font-style="italic">e</text><text transform="translate(100.02 -9.19) scale(1.233 1)" font-size="17.47">−</text><text transform="translate(113.85 -16.72) scale(0.964 1)" font-size="12.23">1</text><text transform="translate(121.28 -16.72) scale(1.013 1)" font-size="12.23">0</text><text transform="translate(128.98 -21.22) scale(1.254 1)" font-size="8.56">−</text><text transform="translate(135.77 -21.22) scale(1.022 1)" font-size="8.56">4</text><text transform="translate(123.79 -2.57) scale(0.972 1)" font-size="12.23">2</text><text transform="translate(143.88 -9.03) scale(0.978 1.068)" font-size="17.47">|</text><text transform="translate(149.57 -9.03) scale(0.978 1.068)" font-size="17.47">|</text><text transform="translate(154.97 -9.19) scale(1.052 1)" font-size="17.47" font-style="italic">x</text><text transform="translate(168.69 -9.19) scale(1.233 1)" font-size="17.47">−</text><text transform="translate(185.73 -9.19) scale(1.052 1)" font-size="17.47" font-style="italic">x</text><path d="M198.04 -22.18L199.27 -21.58L196.96 -16.12L196.53 -16.42Z" fill="#000"/><text transform="translate(200.5 -9.03) scale(0.978 1.068)" font-size="17.47">|</text><text transform="translate(206.2 -9.03) scale(0.978 1.068)" font-size="17.47">|</text><text transform="translate(211.72 -15.62) scale(0.972 1)" font-size="12.23">2</text><text transform="translate(211.72 -4.59) scale(0.972 1)" font-size="12.23">2</text><rect x="113.46" y="-13.4" width="27.71" height="1.05" fill="#000"/></g>
<g transform="translate(415.25 980)" fill="#000"><text transform="translate(-6.15 0) scale(1.035 1)" font-size="20.8" font-style="italic">n</text></g>
<g transform="translate(46.25 742.4) rotate(-90)" fill="#000"><text transform="translate(0.43 0) scale(1.035 1)" font-size="20.8" font-style="italic">ε</text><text transform="translate(11.23 3.28)" font-size="14.56" font-style="italic">g</text></g>
<clipPath id="c3"><rect x="844" y="542" width="580" height="379.4"/></clipPath>
<g clip-path="url(#c3)">
<path d="M870.4 561.7V691M929.2 622.3V690.7M988 645V708.7M1046.5 668.1V720.1M1104.6 679.3V734.3M1163.2 712.3V738.8M1222 723.7V746.2M1280.4 733V762.1M1338.8 855.5V883.7" stroke="#ff0000" stroke-width="3.5" fill="none"/>
<path d="M870.4 567.5V683.6M929.2 633.5V698.1M988 668.3V724.6M1046.5 699.5V742.1M1104.6 719.7V756.7M1163.2 738.8V769.7M1222 760.3V780.7M1280.4 776.7V796.6M1338.8 799.8V812M1397.7 821.8V835.1" stroke="#0000ff" stroke-width="3.5" fill="none"/>
<path d="M864.2 561.7h12.4M864.2 691h12.4M923 622.3h12.4M923 690.7h12.4M981.8 645h12.4M981.8 708.7h12.4M1040.3 668.1h12.4M1040.3 720.1h12.4M1098.4 679.3h12.4M1098.4 734.3h12.4M1157 712.3h12.4M1157 738.8h12.4M1215.8 723.7h12.4M1215.8 746.2h12.4M1274.2 733h12.4M1274.2 762.1h12.4M1332.6 855.5h12.4M1332.6 883.7h12.4" stroke="#ff0000" stroke-width="2.4" fill="none"/>
<path d="M929.2 648.8L1397.7 792.1" stroke="#ff0000" stroke-width="3.4" stroke-dasharray="11.14 4.82" fill="none"/>
<path d="M864.2 567.5h12.4M864.2 683.6h12.4M923 633.5h12.4M923 698.1h12.4M981.8 668.3h12.4M981.8 724.6h12.4M1040.3 699.5h12.4M1040.3 742.1h12.4M1098.4 719.7h12.4M1098.4 756.7h12.4M1157 738.8h12.4M1157 769.7h12.4M1215.8 760.3h12.4M1215.8 780.7h12.4M1274.2 776.7h12.4M1274.2 796.6h12.4M1332.6 799.8h12.4M1332.6 812h12.4M1391.5 821.8h12.4M1391.5 835.1h12.4" stroke="#0000ff" stroke-width="2.4" fill="none"/>
<path d="M870.4 623L1397.7 850.4" stroke="#0000ff" stroke-width="3.4" stroke-dasharray="11.14 4.82" fill="none"/>
<circle cx="870.4" cy="606.1" r="5.1" fill="#ff0000"/>
<circle cx="929.2" cy="650.6" r="5.1" fill="#ff0000"/>
<circle cx="988" cy="671.9" r="5.1" fill="#ff0000"/>
<circle cx="1046.5" cy="690.5" r="5.1" fill="#ff0000"/>
<circle cx="1104.6" cy="702.9" r="5.1" fill="#ff0000"/>
<circle cx="1163.2" cy="725" r="5.1" fill="#ff0000"/>
<circle cx="1222" cy="734.8" r="5.1" fill="#ff0000"/>
<circle cx="1280.4" cy="746.8" r="5.1" fill="#ff0000"/>
<circle cx="1338.8" cy="868.8" r="5.1" fill="#ff0000"/>
<circle cx="870.4" cy="609.9" r="5.1" fill="#0000ff"/>
<circle cx="929.2" cy="660.4" r="5.1" fill="#0000ff"/>
<circle cx="988" cy="693.2" r="5.1" fill="#0000ff"/>
<circle cx="1046.5" cy="718.8" r="5.1" fill="#0000ff"/>
<circle cx="1104.6" cy="736.5" r="5.1" fill="#0000ff"/>
<circle cx="1163.2" cy="753.4" r="5.1" fill="#0000ff"/>
<circle cx="1222" cy="770.1" r="5.1" fill="#0000ff"/>
<circle cx="1280.4" cy="786" r="5.1" fill="#0000ff"/>
<circle cx="1338.8" cy="805.9" r="5.1" fill="#0000ff"/>
<circle cx="1397.7" cy="828.5" r="5.1" fill="#0000ff"/>
</g>
<rect x="844" y="542" width="580" height="379.4" fill="none" stroke="#000" stroke-width="2"/>
<path d="M870.2 921.4v7M1082.1 921.4v7M1294 921.4v7M844 870.3h-7M844 639.3h-7" stroke="#000" stroke-width="1.8" fill="none"/>
<path d="M849.66 921.4v4M860.5 921.4v4M933.99 921.4v4M971.3 921.4v4M997.78 921.4v4M1018.31 921.4v4M1035.09 921.4v4M1049.28 921.4v4M1061.56 921.4v4M1072.4 921.4v4M1145.89 921.4v4M1183.2 921.4v4M1209.68 921.4v4M1230.21 921.4v4M1246.99 921.4v4M1261.18 921.4v4M1273.46 921.4v4M1284.3 921.4v4M1357.79 921.4v4M1395.1 921.4v4M1421.58 921.4v4M844 921.55h-4M844 906.08h-4M844 892.69h-4M844 880.87h-4M844 800.76h-4M844 760.08h-4M844 731.22h-4M844 708.84h-4M844 690.55h-4M844 675.08h-4M844 661.69h-4M844 649.87h-4M844 569.76h-4" stroke="#000" stroke-width="1.2" fill="none"/>
<g transform="translate(869.9 951)" fill="#000"><text transform="translate(-17.33 0) scale(0.969 1)" font-size="20.8">1</text><text transform="translate(-4.79 0) scale(1.016 1)" font-size="20.8">0</text><text transform="translate(8.11 -7.66) scale(0.970 1)" font-size="14.56">1</text></g>
<g transform="translate(1081.8 951)" fill="#000"><text transform="translate(-17.33 0) scale(0.969 1)" font-size="20.8">1</text><text transform="translate(-4.79 0) scale(1.016 1)" font-size="20.8">0</text><text transform="translate(7.95 -7.66) scale(0.979 1)" font-size="14.56">2</text></g>
<g transform="translate(1293.7 951)" fill="#000"><text transform="translate(-17.33 0) scale(0.969 1)" font-size="20.8">1</text><text transform="translate(-4.79 0) scale(1.016 1)" font-size="20.8">0</text><text transform="translate(8.17 -7.66) scale(0.977 1)" font-size="14.56">3</text></g>
<g transform="translate(828.45 646.9)" fill="#000"><text transform="translate(-46.33 0) scale(0.969 1)" font-size="20.8">1</text><text transform="translate(-33.79 0) scale(1.016 1)" font-size="20.8">0</text><text transform="translate(-20.77 -7.66) scale(1.244 1)" font-size="14.56">−</text><text transform="translate(-9.16 -7.66) scale(0.970 1)" font-size="14.56">1</text></g>
<g transform="translate(828.45 877)" fill="#000"><text transform="translate(-46.33 0) scale(0.969 1)" font-size="20.8">1</text><text transform="translate(-33.79 0) scale(1.016 1)" font-size="20.8">0</text><text transform="translate(-20.77 -7.66) scale(1.244 1)" font-size="14.56">−</text><text transform="translate(-9.32 -7.66) scale(0.979 1)" font-size="14.56">2</text></g>
<rect x="1160.8" y="552.5" width="253.4" height="123.2" rx="4" ry="4" fill="#fff" fill-opacity="0.8" stroke="#c8c8c8" stroke-width="2"/>
<circle cx="1188.9" cy="568.6" r="5.1" fill="#ff0000"/>
<g transform="translate(1224.8 575.6)" fill="#000"><text transform="translate(0.54 0) scale(0.924 1)" font-size="20.8">s</text><text transform="translate(10.94 0) scale(0.983 1)" font-size="20.8">i</text><text transform="translate(16.28 0) scale(1.098 1)" font-size="20.8">m</text><text transform="translate(35.77 0) scale(1.039 1)" font-size="20.8">u</text><text transform="translate(48.63 0) scale(0.991 1)" font-size="20.8">l</text><text transform="translate(54.14 0) scale(0.865 1)" font-size="20.8">a</text><text transform="translate(66.08 0) scale(1.289 1)" font-size="20.8">t</text><text transform="translate(74.31 0) scale(0.983 1)" font-size="20.8">i</text><text transform="translate(79.56 0) scale(1.024 1)" font-size="20.8">o</text><text transform="translate(91.96 0) scale(1.041 1)" font-size="20.8">n</text><text transform="translate(104.8 0) scale(0.924 1)" font-size="20.8">s</text><text transform="translate(113.63 -0.29) scale(1.397 0.975)" font-size="20.8">,</text><text transform="translate(127.51 0) scale(1.235 1)" font-size="20.8">r</text><text transform="translate(136.14 0) scale(0.983 1)" font-size="20.8">i</text><text transform="translate(141.37 0) scale(1.047 1)" font-size="20.8">d</text><text transform="translate(154.06 0) scale(1.047 1)" font-size="20.8">g</text><text transform="translate(166.76 0) scale(1.038 1)" font-size="20.8">e</text></g>
<path d="M1168.8 597.9h40" stroke="#ff0000" stroke-width="3.4" stroke-dasharray="11.14 4.82" fill="none"/>
<g transform="translate(1224.8 604.9)" fill="#000"><text transform="translate(0.21 0) scale(1.024 1)" font-size="20.8">o</text><text transform="translate(12.64 0) scale(1.050 1)" font-size="20.8">p</text><text transform="translate(25.06 0) scale(1.289 1)" font-size="20.8">t</text><text transform="translate(33.3 0) scale(0.983 1)" font-size="20.8">i</text><text transform="translate(38.63 0) scale(1.098 1)" font-size="20.8">m</text><text transform="translate(58.26 0) scale(0.865 1)" font-size="20.8">a</text><text transform="translate(70.56 0) scale(0.991 1)" font-size="20.8">l</text><text transform="translate(82.1 0) scale(1.235 1)" font-size="20.8">r</text><text transform="translate(90.73 0) scale(0.983 1)" font-size="20.8">i</text><text transform="translate(95.96 0) scale(1.047 1)" font-size="20.8">d</text><text transform="translate(108.65 0) scale(1.047 1)" font-size="20.8">g</text><text transform="translate(121.35 0) scale(1.038 1)" font-size="20.8">e</text><text transform="translate(139.93 0) scale(1.235 1)" font-size="20.8">r</text><text transform="translate(148.48 0) scale(0.865 1)" font-size="20.8">a</text><text transform="translate(160.42 0) scale(1.289 1)" font-size="20.8">t</text><text transform="translate(168.34 0) scale(1.038 1)" font-size="20.8">e</text></g>
<circle cx="1188.9" cy="627.2" r="5.1" fill="#0000ff"/>
<g transform="translate(1224.8 634.2)" fill="#000"><text transform="translate(0.54 0) scale(0.924 1)" font-size="20.8">s</text><text transform="translate(10.94 0) scale(0.983 1)" font-size="20.8">i</text><text transform="translate(16.28 0) scale(1.098 1)" font-size="20.8">m</text><text transform="translate(35.77 0) scale(1.039 1)" font-size="20.8">u</text><text transform="translate(48.63 0) scale(0.991 1)" font-size="20.8">l</text><text transform="translate(54.14 0) scale(0.865 1)" font-size="20.8">a</text><text transform="translate(66.08 0) scale(1.289 1)" font-size="20.8">t</text><text transform="translate(74.31 0) scale(0.983 1)" font-size="20.8">i</text><text transform="translate(79.56 0) scale(1.024 1)" font-size="20.8">o</text><text transform="translate(91.96 0) scale(1.041 1)" font-size="20.8">n</text><text transform="translate(104.8 0) scale(0.924 1)" font-size="20.8">s</text><text transform="translate(113.63 -0.29) scale(1.397 0.975)" font-size="20.8">,</text><text transform="translate(127.9 0) scale(0.859 1)" font-size="20.8">S</text><text transform="translate(140.15 0) scale(0.978 1)" font-size="20.8">V</text><text transform="translate(154.1 0) scale(0.961 1)" font-size="20.8">M</text></g>
<path d="M1168.8 656.5h40" stroke="#0000ff" stroke-width="3.4" stroke-dasharray="11.14 4.82" fill="none"/>
<g transform="translate(1224.8 663.5)" fill="#000"><text transform="translate(0.51 0) scale(0.859 1)" font-size="20.8">S</text><text transform="translate(12.76 0) scale(0.978 1)" font-size="20.8">V</text><text transform="translate(26.71 0) scale(0.961 1)" font-size="20.8">M</text><text transform="translate(50.1 0) scale(1.235 1)" font-size="20.8">r</text><text transform="translate(58.66 0) scale(0.865 1)" font-size="20.8">a</text><text transform="translate(70.6 0) scale(1.289 1)" font-size="20.8">t</text><text transform="translate(78.51 0) scale(1.038 1)" font-size="20.8">e</text></g>
<g transform="translate(1134 528.9)" fill="#000"><text transform="translate(-169.66 0) scale(0.956 1)" font-size="24.96">M</text><text transform="translate(-148.81 0) scale(0.947 1)" font-size="24.96">N</text><text transform="translate(-131.15 0) scale(1.013 1)" font-size="24.96">I</text><text transform="translate(-123.44 0) scale(0.857 1)" font-size="24.96">S</text><text transform="translate(-109.38 0) scale(1.048 1)" font-size="24.96">T</text><text transform="translate(-95.23 -0.36) scale(1.395 0.984)" font-size="24.96">,</text><text transform="translate(-78.72 0) scale(0.992 1)" font-size="24.96" font-style="italic">K</text><text transform="translate(-61.95 -1.58) scale(0.809 0.919)" font-size="24.96">(</text><text transform="translate(-52.91 0) scale(1.056 1)" font-size="24.96" font-style="italic">x</text><text transform="translate(-40.33 -0.36) scale(1.395 0.984)" font-size="24.96">,</text><text transform="translate(-26.24 0) scale(1.056 1)" font-size="24.96" font-style="italic">x</text><path d="M-8.65 -18.58L-6.89 -17.98L-10.19 -9.91L-10.81 -10.21Z" fill="#000"/><text transform="translate(-4.18 -1.58) scale(0.809 0.919)" font-size="24.96">)</text><text transform="translate(9.18 0) scale(1.235 1)" font-size="24.96">=</text><text transform="translate(33.32 0) scale(1.037 1)" font-size="24.96" font-style="italic">e</text><text transform="translate(49.78 -9.19) scale(1.233 1)" font-size="17.47">−</text><text transform="translate(63.62 -16.72) scale(0.964 1)" font-size="12.23">1</text><text transform="translate(71.05 -16.72) scale(1.013 1)" font-size="12.23">0</text><text transform="translate(78.75 -21.22) scale(1.254 1)" font-size="8.56">−</text><text transform="translate(85.45 -21.22) scale(1.060 1)" font-size="8.56">6</text><text transform="translate(73.56 -2.57) scale(0.972 1)" font-size="12.23">2</text><text transform="translate(93.64 -9.03) scale(0.978 1.068)" font-size="17.47">|</text><text transform="translate(99.34 -9.03) scale(0.978 1.068)" font-size="17.47">|</text><text transform="translate(104.74 -9.19) scale(1.052 1)" font-size="17.47" font-style="italic">x</text><text transform="translate(118.46 -9.19) scale(1.233 1)" font-size="17.47">−</text><text transform="translate(135.5 -9.19) scale(1.052 1)" font-size="17.47" font-style="italic">x</text><path d="M147.8 -22.18L149.03 -21.58L146.73 -16.12L146.3 -16.42Z" fill="#000"/><text transform="translate(150.27 -9.03) scale(0.978 1.068)" font-size="17.47">|</text><text transform="translate(155.96 -9.03) scale(0.978 1.068)" font-size="17.47">|</text><text transform="translate(161.49 -15.62) scale(0.972 1)" font-size="12.23">2</text><text transform="translate(161.49 -4.59) scale(0.972 1)" font-size="12.23">2</text><rect x="63.23" y="-13.4" width="27.71" height="1.05" fill="#000"/></g>
<g transform="translate(1134 980)" fill="#000"><text transform="translate(-6.15 0) scale(1.035 1)" font-size="20.8" font-style="italic">n</text></g>
<g transform="translate(764.85 742.4) rotate(-90)" fill="#000"><text transform="translate(0.43 0) scale(1.035 1)" font-size="20.8" font-style="italic">ε</text><text transform="translate(11.23 3.28)" font-size="14.56" font-style="italic">g</text></g>
</svg>
</body></html>
